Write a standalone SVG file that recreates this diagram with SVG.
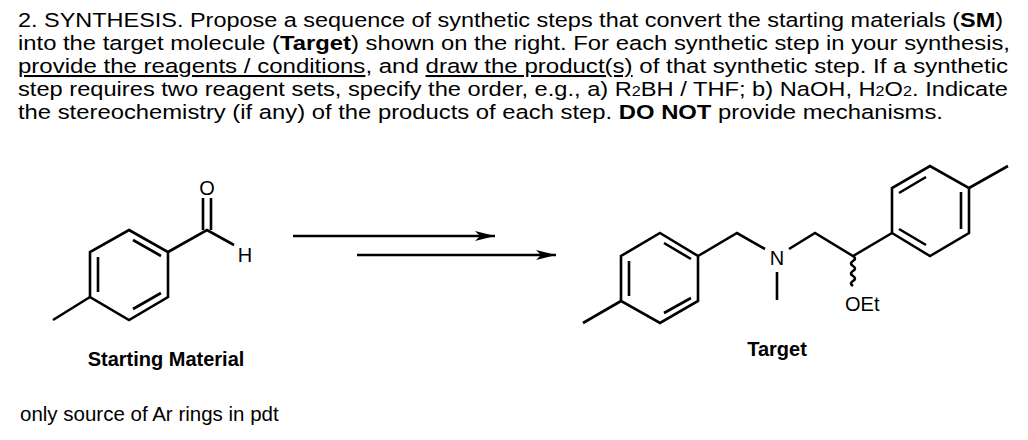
<svg xmlns="http://www.w3.org/2000/svg" width="1028" height="440" viewBox="0 0 1028 440">
<style>
text{font-family:"Liberation Sans",Arial,sans-serif;fill:#000}
.p{font-size:20.5px}
.b{stroke:#000;stroke-width:2.6;fill:none;stroke-linecap:butt}
.a{font-size:20px}
.lbl{font-size:20px;font-weight:bold;text-anchor:middle}
</style>
<defs><marker id="ah" viewBox="0 0 20 10" refX="20" refY="5" markerWidth="20" markerHeight="10" markerUnits="userSpaceOnUse" orient="auto"><path d="M0,0 L20,5 L0,10 L5,5z" fill="#000"/></marker></defs>
<g id="question">
<text class="p" x="18" y="27" textLength="985" lengthAdjust="spacingAndGlyphs">2. SYNTHESIS. Propose a sequence of synthetic steps that convert the starting materials (<tspan font-weight="bold">SM</tspan>)</text>
<text class="p" x="18" y="50" textLength="992" lengthAdjust="spacingAndGlyphs">into the target molecule (<tspan font-weight="bold">Target</tspan>) shown on the right. For each synthetic step in your synthesis,</text>
<text class="p" x="18" y="73" textLength="990" lengthAdjust="spacingAndGlyphs"><tspan text-decoration="underline">provide the reagents / conditions</tspan>, and <tspan text-decoration="underline">draw the product(s)</tspan> of that synthetic step. If a synthetic</text>
<text class="p" x="18" y="96" textLength="990" lengthAdjust="spacingAndGlyphs">step requires two reagent sets, specify the order, e.g., a) R<tspan font-size="14">2</tspan>BH / THF; b) NaOH, H<tspan font-size="14">2</tspan>O<tspan font-size="14">2</tspan>. Indicate</text>
<text class="p" x="18" y="119" textLength="925" lengthAdjust="spacingAndGlyphs">the stereochemistry (if any) of the products of each step. <tspan font-weight="bold">DO NOT</tspan> provide mechanisms.</text>
</g>
<g id="starting-material">
<path class="b" d="M129,230 L168,252 L168,297 L129,320 L90,297 L90,252 Z"/>
<path class="b" d="M133,240 L161,256 M161,293 L133,309 M98,257 L98,292"/>
<path class="b" d="M90,297 L53,320 M168,252 L207,230 L234,245 M203,230 V198 M211,230 V198"/>
<text class="a" x="207" y="195" text-anchor="middle">O</text>
<text class="a" x="245" y="262" text-anchor="middle">H</text>
</g>
<g id="connectors">
<line class="b" x1="293" y1="236" x2="495" y2="236" marker-end="url(#ah)"/>
<line class="b" x1="357" y1="255" x2="556" y2="255" marker-end="url(#ah)"/>
</g>
<g id="target">
<path class="b" d="M660,233 L698,256 L698,301 L660,323 L621,301 L621,256 Z"/>
<path class="b" d="M664,243 L691,259 M691,298 L664,313 M629,261 L629,296"/>
<path class="b" d="M621,301 L583,323 M698,256 L737,233 L765,249 M789,249 L815,233 L853,256 L892,233 M777,272 V300"/>
<path class="b" d="M892,233 L930,256 L969,233 L969,188 L930,166 L892,188 Z"/>
<path class="b" d="M899,193 L926,177 M961,192 L961,229 M926,245 L899,229 M969,188 L1008,166"/>
<path class="b" stroke-width="2" d="M853,256 q4,2.5 0,5 q-4,2.5 0,5 q4,2.5 0,5 q-4,2.5 0,5 q4,2.5 0,5 q-4,2.5 0,5"/>
<text class="a" x="777" y="265" text-anchor="middle">N</text>
<text class="a" x="845" y="311">OEt</text>
</g>
<text class="lbl" x="166" y="366">Starting Material</text>
<text class="lbl" x="777" y="356">Target</text>
<text class="p" x="20" y="421">only source of Ar rings in pdt</text>
</svg>
